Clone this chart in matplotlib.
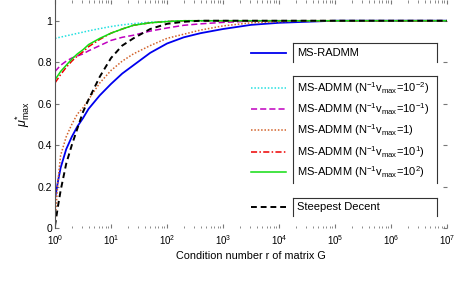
import numpy as np
import matplotlib
matplotlib.use("Agg")
import matplotlib.pyplot as plt
from matplotlib.lines import Line2D

plt.rcParams['font.family'] = ['Liberation Sans', 'DejaVu Sans']
plt.rcParams['mathtext.fontset'] = 'custom'
plt.rcParams['mathtext.rm'] = 'Liberation Sans'
plt.rcParams['mathtext.it'] = 'Liberation Sans:italic'

# log10 of condition number r
log_r = [0, 0.05, 0.1, 0.2, 0.3, 0.4, 0.5, 0.6, 0.8, 1.0, 1.2, 1.4, 1.7, 2.0,
         2.3, 2.6, 3.0, 3.5, 4.0, 4.5, 5.0, 6.0, 7.0]

ms_radmm = [0.14, 0.22, 0.29, 0.38, 0.44, 0.49, 0.53, 0.575, 0.64, 0.695, 0.745,
            0.785, 0.845, 0.89, 0.92, 0.94, 0.96, 0.98, 0.99, 0.995, 1.0, 1.0, 1.0]
admm_1e_2 = [0.915, 0.918, 0.921, 0.927, 0.933, 0.939, 0.945, 0.951, 0.962, 0.972,
             0.98, 0.986, 0.993, 0.997, 1.0, 1.0, 1.0, 1.0, 1.0, 1.0, 1.0, 1.0, 1.0]
admm_1e_1 = [0.755, 0.77, 0.785, 0.805, 0.82, 0.83, 0.84, 0.855, 0.88, 0.905, 0.92,
             0.93, 0.95, 0.965, 0.978, 0.985, 0.992, 0.998, 1.0, 1.0, 1.0, 1.0, 1.0]
admm_1e0 = [0.02, 0.22, 0.35, 0.44, 0.50, 0.55, 0.58, 0.62, 0.70, 0.76, 0.805,
            0.84, 0.88, 0.915, 0.935, 0.955, 0.975, 0.99, 0.995, 1.0, 1.0, 1.0, 1.0]
admm_1e1 = [0.70, 0.72, 0.74, 0.775, 0.805, 0.83, 0.85, 0.875, 0.91, 0.94, 0.96,
            0.978, 0.99, 0.996, 1.0, 1.0, 1.0, 1.0, 1.0, 1.0, 1.0, 1.0, 1.0]
admm_1e2 = [0.715, 0.735, 0.755, 0.785, 0.815, 0.84, 0.86, 0.885, 0.915, 0.94, 0.96,
            0.978, 0.99, 0.996, 1.0, 1.0, 1.0, 1.0, 1.0, 1.0, 1.0, 1.0, 1.0]
steepest = [0.01, 0.10, 0.18, 0.31, 0.40, 0.48, 0.56, 0.62, 0.73, 0.82, 0.88,
            0.915, 0.96, 0.985, 0.995, 1.0, 1.0, 1.0, 1.0, 1.0, 1.0, 1.0, 1.0]

labels = ['MS-RADMM',
          r'MS-ADMM (N$^{-1}$v$_{\rm max}$=10$^{-2}$)',
          r'MS-ADMM (N$^{-1}$v$_{\rm max}$=10$^{-1}$)',
          r'MS-ADMM (N$^{-1}$v$_{\rm max}$=1)',
          r'MS-ADMM (N$^{-1}$v$_{\rm max}$=10$^{1}$)',
          r'MS-ADMM (N$^{-1}$v$_{\rm max}$=10$^{2}$)',
          'Steepest Decent']
x_ticks_exp = [0, 1, 2, 3, 4, 5, 6, 7]
y_ticks = [0, 0.2, 0.4, 0.6, 0.8, 1.0]
y_tick_labels = ['0', '0.2', '0.4', '0.6', '0.8', '1']

series = [ms_radmm, admm_1e_2, admm_1e_1, admm_1e0, admm_1e1, admm_1e2, steepest]
styles = [dict(color='#0000ee', ls='-', lw=1.3),
          dict(color='#22e0e0', ls=(0, (1, 1.2)), lw=1.1),
          dict(color='#c000c0', ls=(0, (4, 2)), lw=1.1),
          dict(color='#d2622a', ls=(0, (1, 1.2)), lw=1.1),
          dict(color='#ee0000', ls=(0, (4, 1.5, 1, 1.5)), lw=1.1),
          dict(color='#11dd11', ls='-', lw=1.1),
          dict(color='black', ls=(0, (3, 2)), lw=1.4)]

W, H = 474, 285
fig = plt.figure(figsize=(W / 100, H / 100), dpi=100)
ax = fig.add_axes([55 / W, 1 - 228 / H, (447 - 55) / W, 228 / H])

r = 10.0 ** np.array(log_r)
for s, st in zip(series, styles):
    ax.plot(r, s, **st)

ax.set_xscale('log')
ax.set_xlim(1, 1e7)
ax.set_ylim(0, 1.1)
ax.set_xticks([10.0 ** e for e in x_ticks_exp])
ax.set_xticklabels([r'10$^{%d}$' % e for e in x_ticks_exp], fontsize=7)
ax.set_yticks(y_ticks)
ax.set_yticklabels(y_tick_labels, fontsize=7.5)
ax.tick_params(which='both', direction='in', top=True, right=True,
               color='#777777', pad=2)
ax.tick_params(axis='x', which='major', pad=3.5)
ax.tick_params(which='major', length=3)
ax.tick_params(which='minor', length=1.8)
for sp in ['top', 'right', 'bottom']:
    ax.spines[sp].set_visible(False)
ax.spines['left'].set_color('#555555')
ax.spines['left'].set_linewidth(0.8)

ax.set_xlabel('Condition number r of matrix G', fontsize=7.8, labelpad=3)
ax.set_ylabel(r'$\mu^{*}_{\rm max}$', fontsize=9, labelpad=4)

# custom legend: three open-bottom boxes
def fx(px):
    return px / W

def fy(py):
    return 1 - py / H

def box(top, bottom):
    for xs, ys in [([293, 437], [top, top]), ([293, 293], [top, bottom]),
                   ([437, 437], [top, bottom])]:
        fig.add_artist(Line2D([fx(v) for v in xs], [fy(v) for v in ys],
                              color='#333333', lw=0.8))

box(43, 62)
box(76, 183)
box(198, 216)

entry_y = [53, 88, 109, 130, 152, 172, 207]
for yy, lab, st in zip(entry_y, labels, styles):
    fig.add_artist(Line2D([fx(251), fx(286)], [fy(yy), fy(yy)], **st))
    fig.text(fx(297), fy(yy), lab, fontsize=8, va='center', ha='left')

fig.savefig('out.png', dpi=100)
